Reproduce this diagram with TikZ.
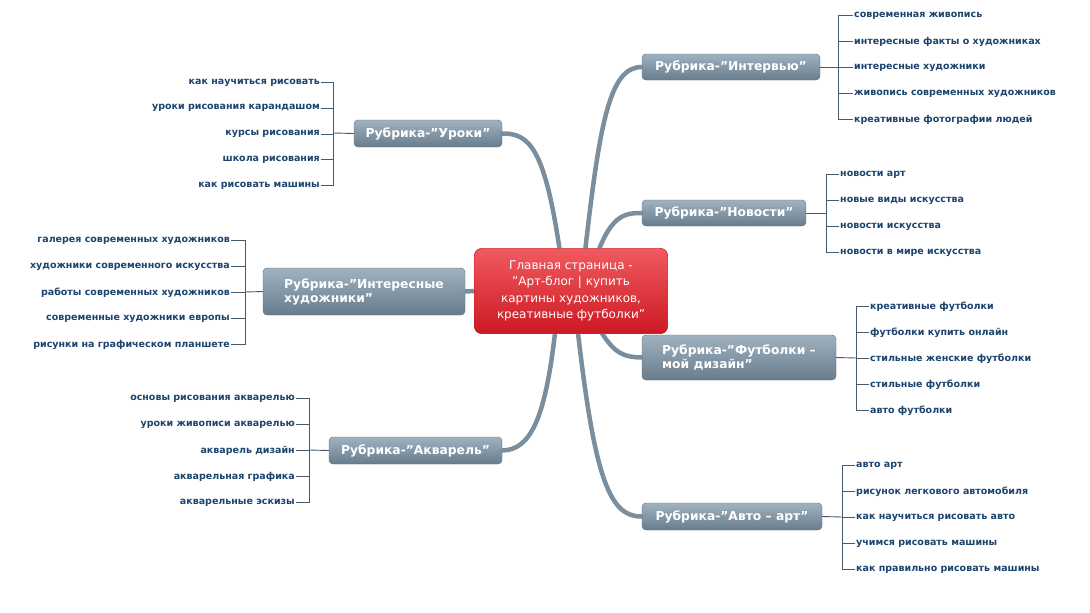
\documentclass[tikz,border=0pt]{standalone}
\usepackage{fontspec}
\setmainfont{DejaVu Sans}
\newcommand{\qq}{\symbol{34}}
\definecolor{leafc}{RGB}{28,68,110}
\definecolor{brc}{RGB}{70,90,110}
\definecolor{catT}{RGB}{160,178,192}
\definecolor{catB}{RGB}{104,124,140}
\definecolor{catD}{RGB}{95,112,126}
\definecolor{conn}{RGB}{122,142,158}
\definecolor{redT}{RGB}{240,90,95}
\definecolor{redB}{RGB}{205,25,35}
\tikzset{
 cat/.style={rounded corners=4pt,top color=catT,bottom color=catB,draw=catD,text=white,font=\fontsize{12.3}{14}\selectfont\bfseries,align=left,inner sep=0pt},
 center/.style={rounded corners=7pt,top color=redT,bottom color=redB,draw=redB,text=white,font=\fontsize{12}{16.5}\selectfont,align=center,inner sep=0pt},
 leafR/.style={anchor=west,text=leafc,font=\fontsize{9.5}{11}\selectfont\bfseries,inner sep=1pt,yshift=-0.5pt},
 leafL/.style={anchor=east,text=leafc,font=\fontsize{9.5}{11}\selectfont\bfseries,inner sep=1pt,yshift=-0.5pt},
 conn/.style={draw=conn,line width=4.5pt,line cap=round},
 br/.style={draw=brc,line width=0.9pt},
}
\begin{document}
\begin{tikzpicture}[x=1pt,y=-1pt]
\useasboundingbox[fill=white] (0,0) rectangle (1090,613);
\node[center,minimum width=193pt,minimum height=85pt] (c) at (571,291) {Главная страница -\\\qq Арт-блог | купить\\картины художников,\\креативные футболки\qq};
% categories
\node[cat,minimum width=178pt,minimum height=26pt] (k1) at (731,67) {Рубрика-\qq Интервью\qq};
\node[cat,minimum width=164pt,minimum height=26pt] (k2) at (724,213) {Рубрика-\qq Новости\qq};
\node[cat,minimum width=194pt,minimum height=45pt] (k3) at (739,357.5) {Рубрика-\qq Футболки –\\мой дизайн\qq};
\node[cat,minimum width=180pt,minimum height=27pt] (k4) at (732,516.5) {Рубрика-\qq Авто – арт\qq};
\node[cat,minimum width=148pt,minimum height=27pt] (k5) at (428,133.5) {Рубрика-\qq Уроки\qq};
\node[cat,minimum width=202pt,minimum height=47pt] (k6) at (364,291.5) {Рубрика-\qq Интересные\\художники\qq};
\node[cat,minimum width=173pt,minimum height=27pt] (k7) at (415.5,450.5) {Рубрика-\qq Акварель\qq};
% connectors
\draw[conn] (585,252) .. controls (600,120) and (610,67) .. (k1.west);
\draw[conn] (598,252) .. controls (612,215) and (625,213) .. (k2.west);
\draw[conn] (600,330) .. controls (615,355) and (625,357) .. (k3.west);
\draw[conn] (578,333) .. controls (595,480) and (610,517) .. (k4.west);
\draw[conn] (560,252) .. controls (545,150) and (530,133) .. (k5.east);
\draw[conn] (c.west) -- (k6.east);
\draw[conn] (555,333) .. controls (545,420) and (530,450) .. (k7.east);
% leaves right
\foreach \t [count=\i] in {современная живопись,интересные факты о художниках,интересные художники,живопись современных художников,креативные фотографии людей}
  {\node[leafR] (a\i) at (853,{15+26*(\i-1)}) {\t};}
\foreach \t [count=\i] in {новости арт,новые виды искусства,новости искусства,новости в мире искусства}
  {\node[leafR] (b\i) at (839,{174+26*(\i-1)}) {\t};}
\foreach \t [count=\i] in {креативные футболки,футболки купить онлайн,стильные женские футболки,стильные футболки,авто футболки}
  {\node[leafR] (d\i) at (869,{306+26*(\i-1)}) {\t};}
\foreach \t [count=\i] in {авто арт,рисунок легкового автомобиля,как научиться рисовать авто,учимся рисовать машины,как правильно рисовать машины}
  {\node[leafR] (e\i) at (855,{465+26*(\i-1)}) {\t};}
% leaves left
\foreach \t [count=\i] in {как научиться рисовать,уроки рисования карандашом,курсы рисования,школа рисования,как рисовать машины}
  {\node[leafL] (f\i) at (321,{82+25.75*(\i-1)}) {\t};}
\foreach \t [count=\i] in {галерея современных художников,художники современного искусства,работы современных художников,современные художники европы,рисунки на графическом планшете}
  {\node[leafL] (g\i) at (231,{240+26*(\i-1)}) {\t};}
\foreach \t [count=\i] in {основы рисования акварелью,уроки живописи акварелью,акварель дизайн,акварельная графика,акварельные эскизы}
  {\node[leafL] (h\i) at (296,{398+26*(\i-1)}) {\t};}
% brackets
\coordinate (ba) at (838,67); \draw[br] (k1.east) -- (ba);
\foreach \i in {1,...,5} \draw[br] (ba) |- (a\i.west);
\coordinate (bb) at (826,213); \draw[br] (k2.east) -- (bb);
\foreach \i in {1,...,4} \draw[br] (bb) |- (b\i.west);
\coordinate (bd) at (856,358); \draw[br] (k3.east) -- (bd);
\foreach \i in {1,...,5} \draw[br] (bd) |- (d\i.west);
\coordinate (be) at (842,517); \draw[br] (k4.east) -- (be);
\foreach \i in {1,...,5} \draw[br] (be) |- (e\i.west);
\coordinate (bf) at (333,133); \draw[br] (k5.west) -- (bf);
\foreach \i in {1,...,5} \draw[br] (bf) |- (f\i.east);
\coordinate (bg) at (245,292); \draw[br] (k6.west) -- (bg);
\foreach \i in {1,...,5} \draw[br] (bg) |- (g\i.east);
\coordinate (bh) at (309,450); \draw[br] (k7.west) -- (bh);
\foreach \i in {1,...,5} \draw[br] (bh) |- (h\i.east);
% centre box on top of connectors
\node[center,minimum width=193pt,minimum height=85pt] at (571,291) {Главная страница -\\\qq Арт-блог | купить\\картины художников,\\креативные футболки\qq};
\end{tikzpicture}
\end{document}
